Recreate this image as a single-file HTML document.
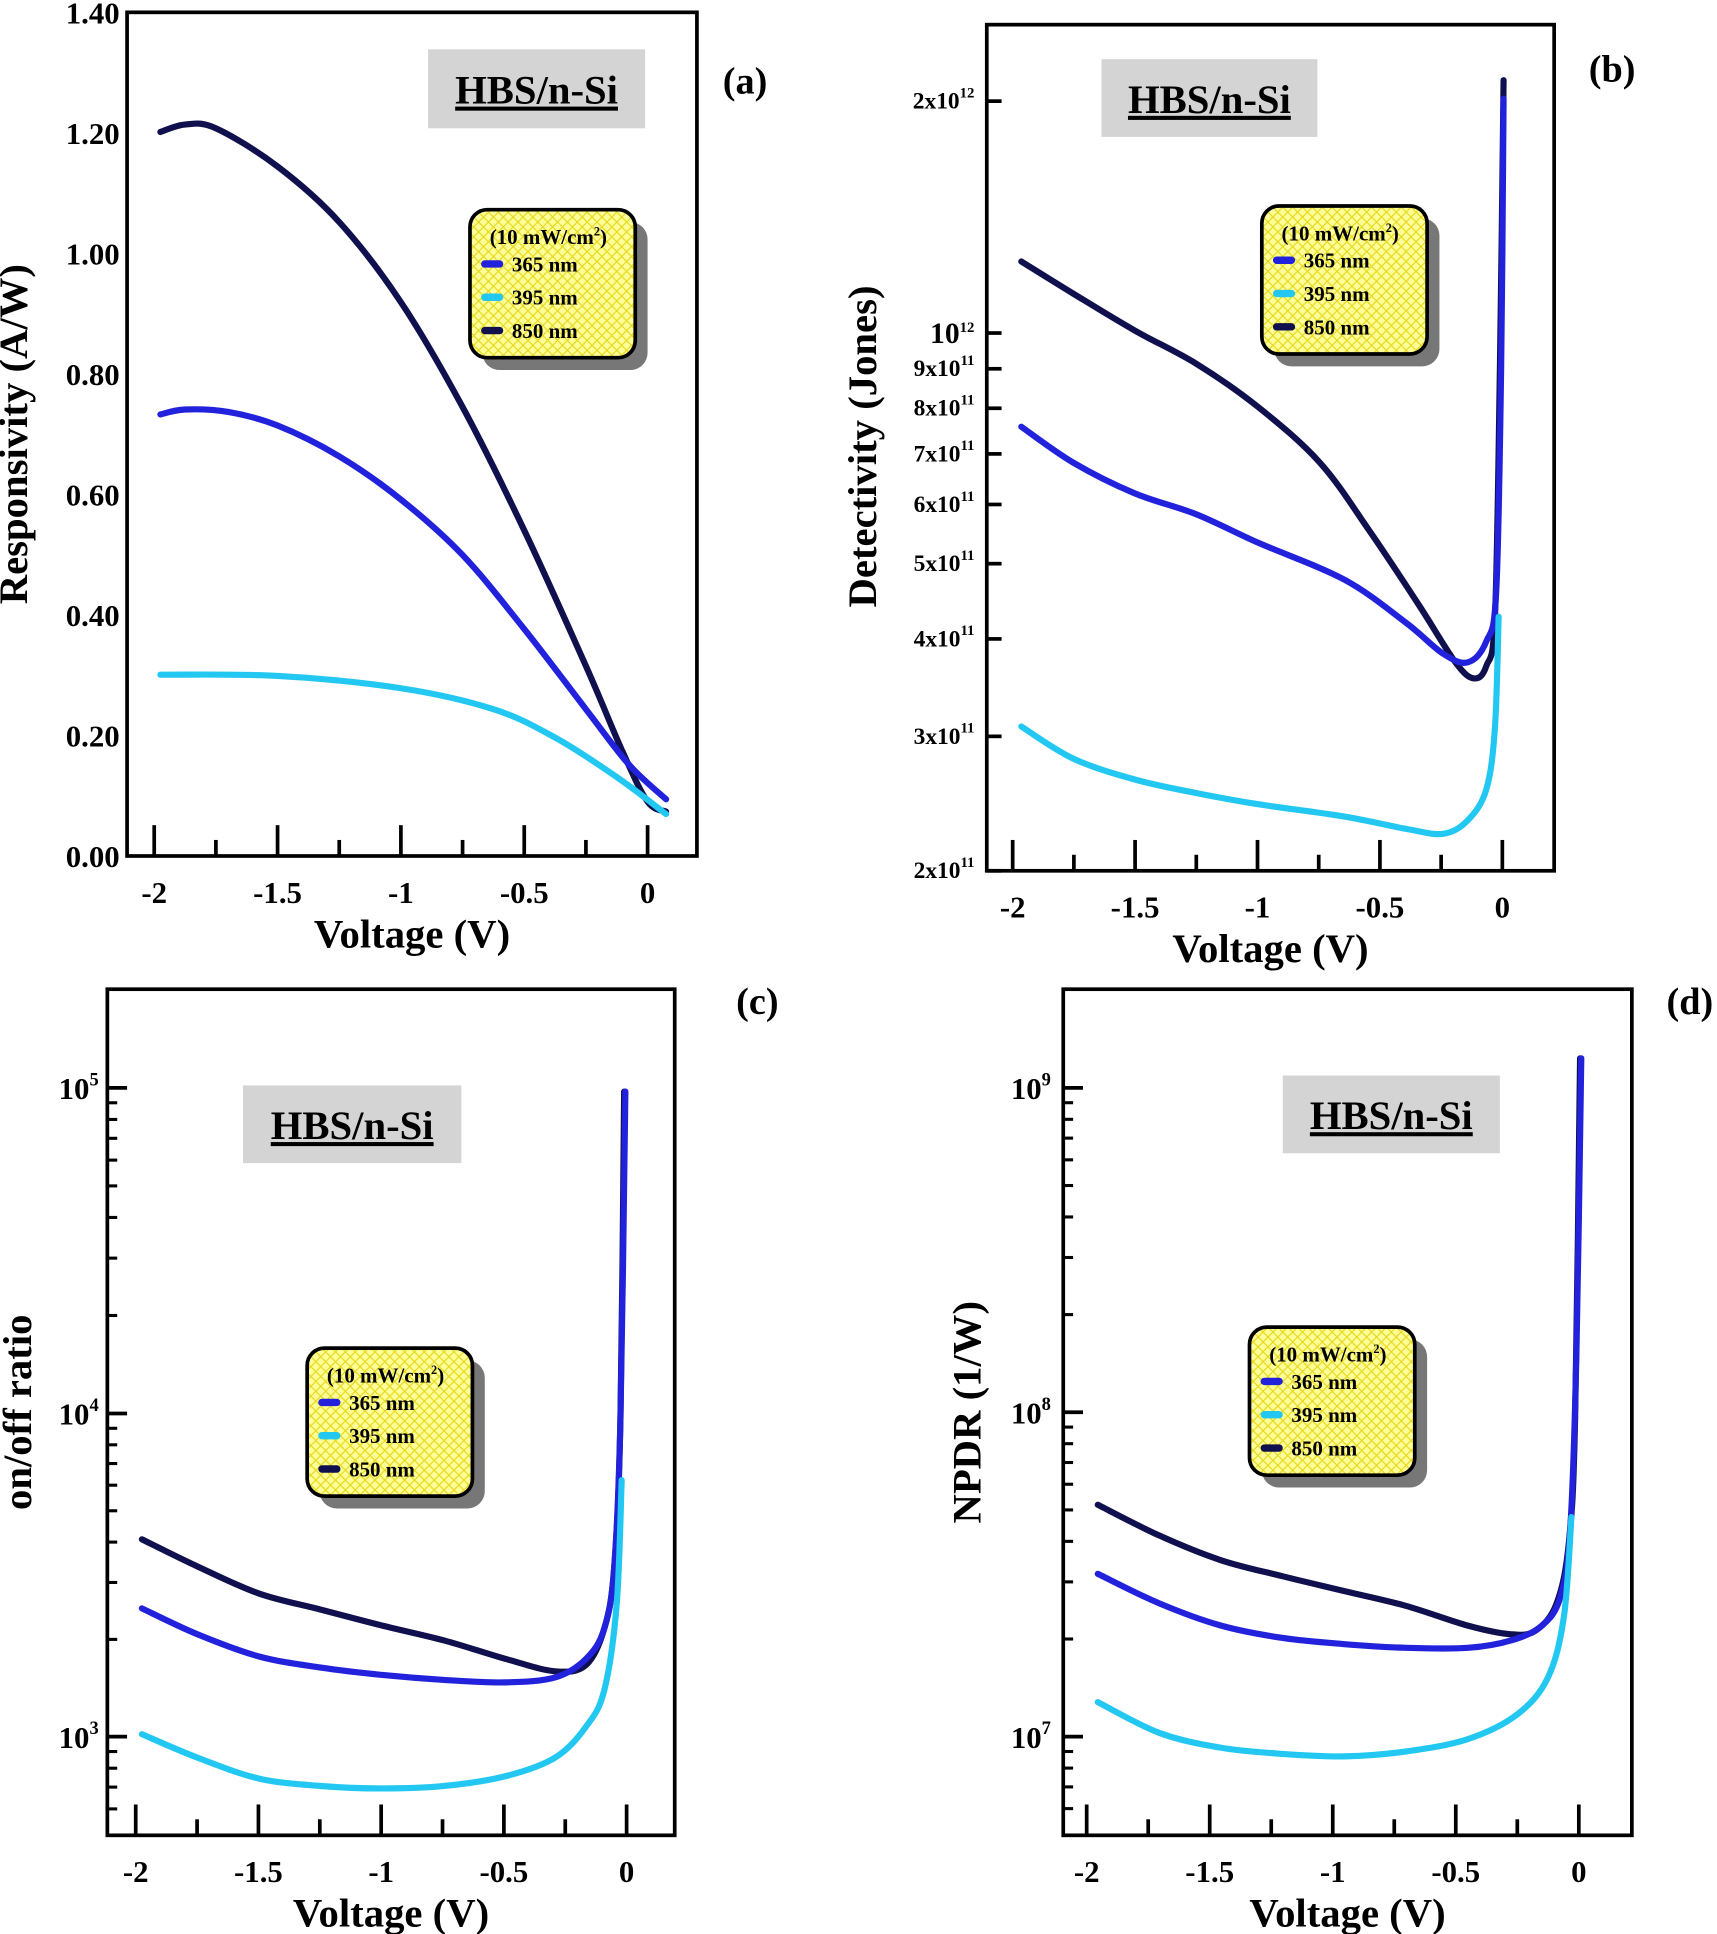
<!DOCTYPE html>
<html><head><meta charset="utf-8"><style>
html,body{margin:0;padding:0;background:#fff;width:1717px;height:1934px;overflow:hidden}
svg{display:block}
text{font-family:"Liberation Serif",serif;font-weight:bold;fill:#000}
</style></head><body>
<svg id="s" width="1717" height="1934" viewBox="0 0 1392 1568" xmlns="http://www.w3.org/2000/svg">
<defs>
<pattern id="hx" width="8" height="8" patternUnits="userSpaceOnUse">
<rect width="8" height="8" fill="#ffff9a"/>
<path d="M0 0L8 8M8 0L0 8" stroke="#e8d820" stroke-width="1"/>
</pattern>
</defs>
<g id="g"></g>
</svg>
<script>
const g=document.getElementById('g');let h='';
const C={a:'#2222dd',b:'#22c8f2',c:'#10104e'};
function line(p,col){
 let d=`M${p[0][0]},${p[0][1]}`;
 for(let i=0;i<p.length-1;i++){
  const p0=p[Math.max(0,i-1)],p1=p[i],p2=p[i+1],p3=p[Math.min(p.length-1,i+2)];
  const c1=[p1[0]+(p2[0]-p0[0])/6,p1[1]+(p2[1]-p0[1])/6];
  const c2=[p2[0]-(p3[0]-p1[0])/6,p2[1]-(p3[1]-p1[1])/6];
  d+=` C${c1[0]},${c1[1]} ${c2[0]},${c2[1]} ${p2[0]},${p2[1]}`;
 }
 h+=`<path d="${d}" fill="none" stroke="${col}" stroke-width="5" stroke-linejoin="round" stroke-linecap="round"/>`;}
function box(x1,y1,x2,y2){h+=`<rect x="${x1}" y="${y1}" width="${x2-x1}" height="${y2-y1}" fill="none" stroke="#000" stroke-width="3"/>`;}
function xticks(x0,x2,yb,x1,x2b){
 const u=(x2-x0)/2;
 for(let i=0;i<=8;i++){const v=-2+i*0.25;const x=x0+(v+2)*u;const maj=i%2==0;
  h+=`<line x1="${x}" y1="${yb}" x2="${x}" y2="${yb-(maj?25:13)}" stroke="#000" stroke-width="3"/>`;}
 [-2,-1.5,-1,-0.5,0].forEach(v=>{const x=x0+(v+2)*u;h+=`<text x="${x}" y="${yb+38}" font-size="25" text-anchor="middle">${v}</text>`});
 h+=`<text x="${(x1+x2b)/2}" y="${yb+74}" font-size="33" text-anchor="middle">Voltage (V)</text>`;
}
function hbs(x1,y1,x2,y2){h+=`<rect x="${x1}" y="${y1}" width="${x2-x1}" height="${y2-y1}" fill="#d4d4d4"/><text x="${(x1+x2)/2}" y="${(y1+y2)/2+12}" font-size="33" text-anchor="middle" text-decoration="underline">HBS/n-Si</text>`;}
function leg(x,y){h+=`<rect x="${x+10}" y="${y+10}" width="134" height="120" rx="14" fill="#777"/>
<rect x="${x}" y="${y}" width="134" height="120" rx="14" fill="url(#hx)" stroke="#000" stroke-width="3"/>
<text x="${x+16}" y="${y+28}" font-size="17">(10 mW/cm<tspan font-size="10" dy="-7">2</tspan><tspan dy="7">)</tspan></text>`;
 [['365 nm',C.a],['395 nm',C.b],['850 nm',C.c]].forEach((l,i)=>{const yy=y+50+i*27;
 h+=`<line x1="${x+12}" y1="${yy-6}" x2="${x+24}" y2="${yy-6}" stroke="${l[1]}" stroke-width="6" stroke-linecap="round"/><text x="${x+34}" y="${yy}" font-size="17">${l[0]}</text>`;});}
function ylbl(x,y,t){h+=`<text transform="translate(${x},${y}) rotate(-90)" font-size="33" text-anchor="middle">${t}</text>`;}
// (a)
box(103,10,565,694);xticks(125,525,694,103,565);
for(let i=0;i<=7;i++){const y=694-i*97.7;h+=`<text x="97" y="${y+9}" font-size="25" text-anchor="end">${(i*0.2).toFixed(2)}</text>`;}
ylbl(22,352,'Responsivity (A/W)');
hbs(347,40,523,104);h+=`<text x="604" y="76" font-size="31" text-anchor="middle">(a)</text>`;
line([[130,107],[150,101],[175,104],[225,135],[275,180],[325,245],[375,330],[425,430],[475,540],[505,610],[525,650],[540,658]],C.c);
line([[130,336],[150,332],[185,334],[225,345],[275,370],[325,405],[375,450],[425,510],[475,575],[510,620],[540,648]],C.a);
line([[130,547],[225,548],[325,558],[400,575],[450,598],[500,630],[540,660]],C.b);
leg(381,170);
// (b)
box(800,20,1260,706);xticks(821,1218,706,800,1260);
[['2x10','12',82],['10','12',270],['9x10','11',299],['8x10','11',331],['7x10','11',368],['6x10','11',409],['5x10','11',457],['4x10','11',518],['3x10','11',597],['2x10','11',706]].forEach(l=>{
 const big=l[0]=='10';h+=`<text x="790" y="${l[2]+(big?8:6)}" font-size="${big?24:19}" text-anchor="end">${l[0]}<tspan font-size="12" dy="-9">${l[1]}</tspan></text>`;
 h+=`<line x1="800" y1="${l[2]}" x2="812" y2="${l[2]}" stroke="#000" stroke-width="3"/>`;});
ylbl(710,362,'Detectivity (Jones)');
hbs(893,48,1068,111);h+=`<text x="1307" y="66" font-size="31" text-anchor="middle">(b)</text>`;
line([[828,212],[870,238],[920,268],[970,295],[1020,330],[1070,375],[1110,430],[1150,490],[1180,537],[1195,550],[1205,540],[1212,500],[1216,300],[1219,65]],C.c);
line([[828,346],[870,375],[920,400],[970,417],[1020,440],[1090,470],[1140,505],[1170,530],[1190,537],[1205,520],[1213,480],[1217,300],[1219,80]],C.a);
line([[828,589],[870,615],[920,632],[970,643],[1020,652],[1090,662],[1140,672],[1170,676],[1190,665],[1205,640],[1212,590],[1215,500]],C.b);
leg(1023,167);
function logt(xl,ys,ytop,ybot){for(let d=0;d<ys.length-1;d++){const y0=ys[d],y1=ys[d+1];for(let k=2;k<=9;k++){const y=y0-(y0-y1)*Math.log10(k);if(y>ytop+2&&y<ybot-2)h+=`<line x1="${xl}" y1="${y}" x2="${xl+8}" y2="${y}" stroke="#000" stroke-width="2.5"/>`;}}
 ys.forEach(y=>{if(y>ytop&&y<ybot)h+=`<line x1="${xl}" y1="${y}" x2="${xl+16}" y2="${y}" stroke="#000" stroke-width="3"/>`});}
// (c)
box(87,802,547,1488);xticks(110,508,1488,87,547);
[['5',882],['4',1146],['3',1408]].forEach(l=>h+=`<text x="80" y="${l[1]+9}" font-size="25" text-anchor="end">10<tspan font-size="15" dy="-11">${l[0]}</tspan></text>`);
logt(87,[1672,1408,1146,882,620],802,1488);
ylbl(25,1145,'on/off ratio');
hbs(197,880,374,943);h+=`<text x="614" y="822" font-size="31" text-anchor="middle">(c)</text>`;
line([[115,1248],[160,1270],[210,1292],[260,1305],[310,1318],[360,1330],[410,1345],[450,1355],[475,1350],[490,1320],[498,1270],[503,1150],[506,885]],C.c);
line([[115,1304],[160,1325],[210,1343],[260,1352],[310,1358],[360,1362],[410,1364],[450,1360],[475,1345],[490,1320],[498,1270],[503,1150],[507,885]],C.a);
line([[115,1406],[160,1425],[210,1442],[260,1448],[310,1450],[360,1448],[410,1440],[450,1425],[475,1400],[490,1370],[500,1300],[504,1200]],C.b);
leg(249,1093);
// (d)
box(862,802,1323,1488);xticks(881,1280,1488,862,1323);
[['9',882],['8',1145],['7',1408]].forEach(l=>h+=`<text x="852" y="${l[1]+9}" font-size="25" text-anchor="end">10<tspan font-size="15" dy="-11">${l[0]}</tspan></text>`);
logt(862,[1671,1408,1145,882,619],802,1488);
ylbl(795,1145,'NPDR (1/W)');
hbs(1040,872,1216,935);h+=`<text x="1370" y="822" font-size="31" text-anchor="middle">(d)</text>`;
line([[890,1220],[940,1245],[990,1265],[1040,1278],[1090,1290],[1140,1302],[1190,1318],[1225,1325],[1245,1322],[1262,1300],[1272,1250],[1277,1150],[1281,858]],C.c);
line([[890,1276],[940,1300],[990,1318],[1040,1328],[1090,1333],[1140,1336],[1190,1336],[1225,1330],[1250,1318],[1265,1295],[1273,1240],[1278,1100],[1282,858]],C.a);
line([[890,1380],[940,1405],[990,1417],[1040,1422],[1090,1424],[1140,1420],[1190,1410],[1230,1390],[1255,1360],[1268,1310],[1274,1230]],C.b);
leg(1013,1076);
g.innerHTML=h;
</script>
</body></html>
